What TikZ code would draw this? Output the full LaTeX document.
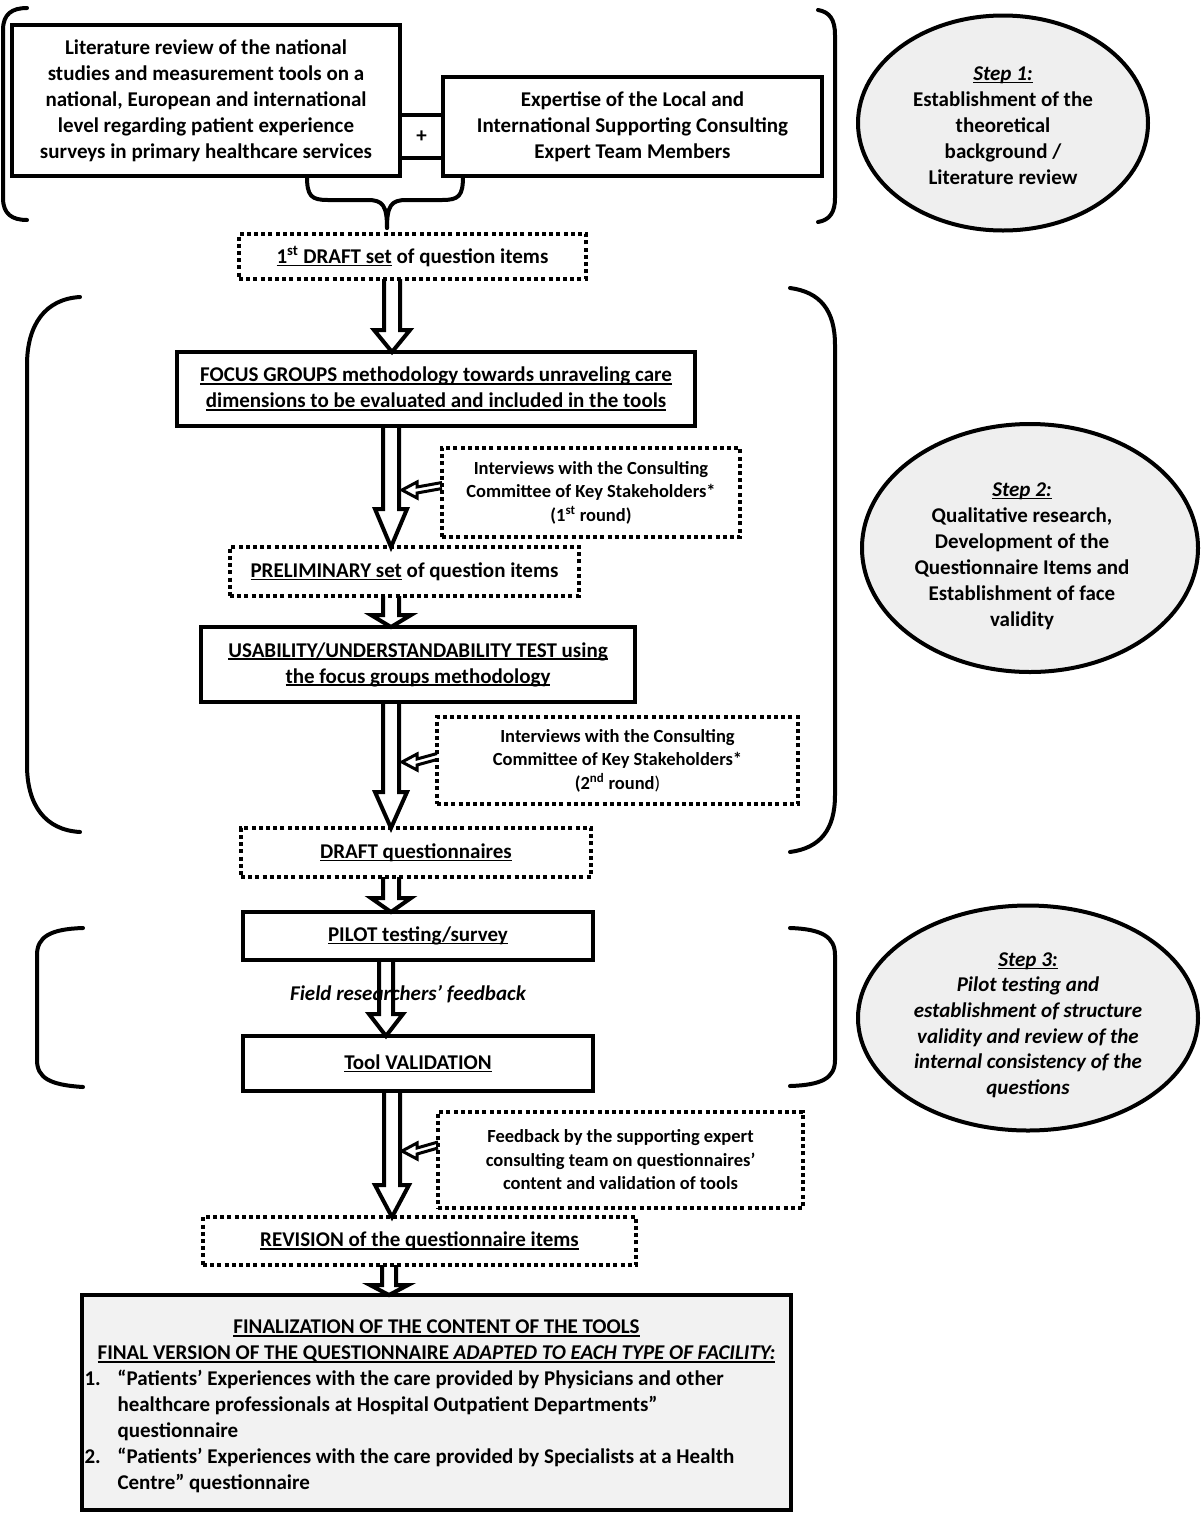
\documentclass[tikz,border=0pt]{standalone}
\usepackage{fontspec}
\setmainfont{Carlito}
\usetikzlibrary{shapes.geometric,calc}
\definecolor{ellgray}{HTML}{EFEFEF}
\definecolor{boxgray}{HTML}{F2F2F2}
\newcommand\ul[1]{\mbox{\setbox0=\hbox{#1}\rlap{\rule[-2.8pt]{\wd0}{1.4pt}}\box0}}
% big hollow arrow: #1 top point, #2 tip point, #3 shaft half, #4 head half, #5 head length
\newcommand\bigarrow[5]{\draw[arrowline] let \p1=(#1), \p2=(#2) in
 (\x1-#3,\y1) -- (\x1-#3,\y2+#5) -- (\x1-#4,\y2+#5) -- (\x2,\y2) -- (\x1+#4,\y2+#5) -- (\x1+#3,\y2+#5) -- (\x1+#3,\y1);}
% small hollow arrow pointing left: #1 start, #2 tip
\newcommand\sidearrow[2]{\draw[sline] let \p1=(#1), \p2=(#2) in
 (\x1,\y1+3pt) -- (\x2+15pt,\y2+3pt) -- (\x2+15pt,\y2+8pt) -- (\x2,\y2) -- (\x2+15pt,\y2-8pt) -- (\x2+15pt,\y2-3pt) -- (\x1,\y1-3pt);}
\tikzset{
 base/.style={inner sep=0pt, outer sep=0pt, align=center, font=\fontsize{21}{26}\selectfont\bfseries},
 solidbox/.style={base, draw, line width=4pt},
 dotbox/.style={base, draw, line width=4pt, dash pattern=on 4pt off 3.2pt},
 smalltxt/.style={font=\fontsize{18.5}{23.5}\selectfont\bfseries},
 stepell/.style={base, ellipse, draw, line width=4pt, fill=ellgray},
 arrowline/.style={line width=4pt, line join=miter},
 sline/.style={line width=3pt, line join=miter},
 brk/.style={line width=4pt, line cap=round},
}
\begin{document}
\begin{tikzpicture}[x=1pt,y=-1pt]
\useasboundingbox (0,0) rectangle (1200,1513);
% ---------- Step 1 ----------
\node[solidbox, minimum width=388pt, minimum height=151pt] (lit) at (206,100.5)
 {Literature review of the national\\studies and measurement tools on a\\national, European and international\\level regarding patient experience\\surveys in primary healthcare services};
\node[solidbox, minimum width=379pt, minimum height=99pt] (exp) at (632.5,126.5)
 {Expertise of the Local and\\International Supporting Consulting\\Expert Team Members};
\node[solidbox, minimum width=43pt, minimum height=43pt] (plus) at (421.5,136.5) {+};
\draw[brk] (3,30) .. controls (3,14) and (12,8) .. (27,8);
\draw[brk] (3,30) -- (3,198) .. controls (3,214) and (12,220) .. (27,220);
\draw[brk] (818,10) .. controls (830,12) and (835,20) .. (835,35) -- (835,198) .. controls (835,212) and (830,220) .. (818,222);
\draw[brk] (307,176) .. controls (307,196) and (311,200) .. (328,200) -- (368,200) .. controls (383,200) and (387,206) .. (387,228);
\draw[brk] (463,176) .. controls (463,196) and (459,200) .. (442,200) -- (406,200) .. controls (391,200) and (387,206) .. (387,228);
\node[dotbox, minimum width=347pt, minimum height=45pt] (d1) at (412.5,256.5)
 {\ul{1\textsuperscript{st} DRAFT set} of question items};
\node[stepell, minimum width=290pt, minimum height=215pt] (s1) at (1003,123) {};
\node[base] (s1t) at (1003,125.5) {\textit{\ul{Step 1:}}\\Establishment of the\\theoretical\\background /\\Literature review};
% ---------- Step 2 ----------
\draw[brk] (80,297) .. controls (45,299) and (27,325) .. (27,365) -- (27,765) .. controls (27,805) and (45,830) .. (80,832);
\draw[brk] (790,288) .. controls (820,292) and (835,310) .. (835,345) -- (835,795) .. controls (835,830) and (820,848) .. (790,852);
\node[solidbox, minimum width=518pt, minimum height=74pt] (focus) at (436,389)
 {\ul{FOCUS GROUPS methodology towards unraveling care}\\\ul{dimensions to be evaluated and included in the tools}};
\node[dotbox, smalltxt, minimum width=298pt, minimum height=89pt] (int1) at (591,492.5)
 {Interviews with the Consulting\\Committee of Key Stakeholders*\\(1\textsuperscript{st} round)};
\node[dotbox, minimum width=349pt, minimum height=49pt] (prelim) at (404.5,571.5)
 {\ul{PRELIMINARY set} of question items};
\node[solidbox, minimum width=434pt, minimum height=75pt] (usab) at (418,664.5)
 {\ul{USABILITY/UNDERSTANDABILITY TEST using}\\\ul{the focus groups methodology}};
\node[dotbox, smalltxt, minimum width=361pt, minimum height=87pt] (int2) at (617.5,760.5)
 {Interviews with the Consulting\\Committee of Key Stakeholders*\\(2\textsuperscript{nd} round\textmd{)}};
\node[dotbox, minimum width=350pt, minimum height=49pt] (draftq) at (416,852.5)
 {\ul{DRAFT questionnaires}};
\node[stepell, minimum width=336pt, minimum height=248pt] (s2) at (1030,548) {};
\node[base] (s2t) at (1022,556) {\textit{\ul{Step 2:}}\\Qualitative research,\\Development of the\\Questionnaire Items and\\Establishment of face\\validity};
% ---------- Step 3 ----------
\draw[brk] (83,928) .. controls (50,929) and (37,937) .. (37,955) -- (37,1060) .. controls (37,1078) and (50,1085) .. (83,1087);
\draw[brk] (790,928) .. controls (822,929) and (835,937) .. (835,955) -- (835,1060) .. controls (835,1078) and (822,1085) .. (790,1086);
\node[solidbox, minimum width=350pt, minimum height=48pt] (pilot) at (418,936)
 {\ul{PILOT testing/survey}};
\node[solidbox, minimum width=350pt, minimum height=55pt] (valid) at (418,1063.5)
 {\ul{Tool VALIDATION}};
\node[dotbox, smalltxt, minimum width=365pt, minimum height=96pt] (fb) at (620.5,1160)
 {Feedback by the supporting expert\\consulting team on questionnaires’\\content and validation of tools};
\node[dotbox, minimum width=433pt, minimum height=48pt] (rev) at (419.5,1241)
 {\ul{REVISION of the questionnaire items}};
\node[stepell, minimum width=340pt, minimum height=225pt] (s3) at (1028,1018) {};
\node[base, font=\fontsize{21}{25.6}\selectfont\bfseries\itshape] (s3t) at (1028,1025)
 {\ul{Step 3:}\\Pilot testing and\\establishment of structure\\validity and review of the\\internal consistency of the\\questions};
% ---------- Final ----------
\node[solidbox, fill=boxgray, minimum width=709pt, minimum height=215pt] (final) at (436.5,1402.5) {};
\node[base] (finalt) at (436.5,1406.5) {%
\ul{FINALIZATION OF THE CONTENT OF THE TOOLS}\\
\ul{FINAL VERSION OF THE QUESTIONNAIRE \textit{ADAPTED TO EACH TYPE OF FACILITY:}}\\
\makebox[704pt][l]{\makebox[33pt][l]{1.}“Patients’ Experiences with the care provided by Physicians and other}\\
\makebox[704pt][l]{\hspace{33pt}healthcare professionals at Hospital Outpatient Departments”}\\
\makebox[704pt][l]{\hspace{33pt}questionnaire}\\
\makebox[704pt][l]{\makebox[33pt][l]{2.}“Patients’ Experiences with the care provided by Specialists at a Health}\\
\makebox[704pt][l]{\hspace{33pt}Centre” questionnaire}};
% ---------- arrows ----------
\coordinate (xa) at (392,0);
\coordinate (xb) at (391,0);
\coordinate (xc) at (386,0);
\coordinate (xd) at (389,0);
\bigarrow{d1.south -| xa}{focus.north -| xa}{8pt}{18pt}{22pt}
\bigarrow{focus.south -| xb}{prelim.north -| xb}{8pt}{16pt}{38pt}
\bigarrow{prelim.south -| xb}{usab.north -| xb}{8pt}{20pt}{12pt}
\bigarrow{usab.south -| xb}{draftq.north -| xb}{8pt}{16pt}{36pt}
\bigarrow{draftq.south -| xb}{pilot.north -| xb}{8pt}{20pt}{14pt}
\bigarrow{pilot.south -| xc}{valid.north -| xc}{7pt}{17pt}{22pt}
\bigarrow{valid.south -| xa}{rev.north -| xa}{8pt}{17pt}{32pt}
\bigarrow{rev.south -| xd}{final.north -| xd}{7pt}{19pt}{10pt}
\coordinate (s1a) at ($(int1.west)+(0,-7)$);
\coordinate (t1) at (402,490);
\sidearrow{s1a}{t1}
\coordinate (s2a) at ($(int2.west)+(0,-4)$);
\coordinate (t2) at (402,762);
\sidearrow{s2a}{t2}
\coordinate (s3a) at ($(fb.west)+(0,-15)$);
\coordinate (t3) at (402,1151);
\sidearrow{s3a}{t3}
\node[base, font=\fontsize{21}{26}\selectfont\bfseries\itshape] (frf) at (408,994) {Field researchers’ feedback};
\end{tikzpicture}
\end{document}
